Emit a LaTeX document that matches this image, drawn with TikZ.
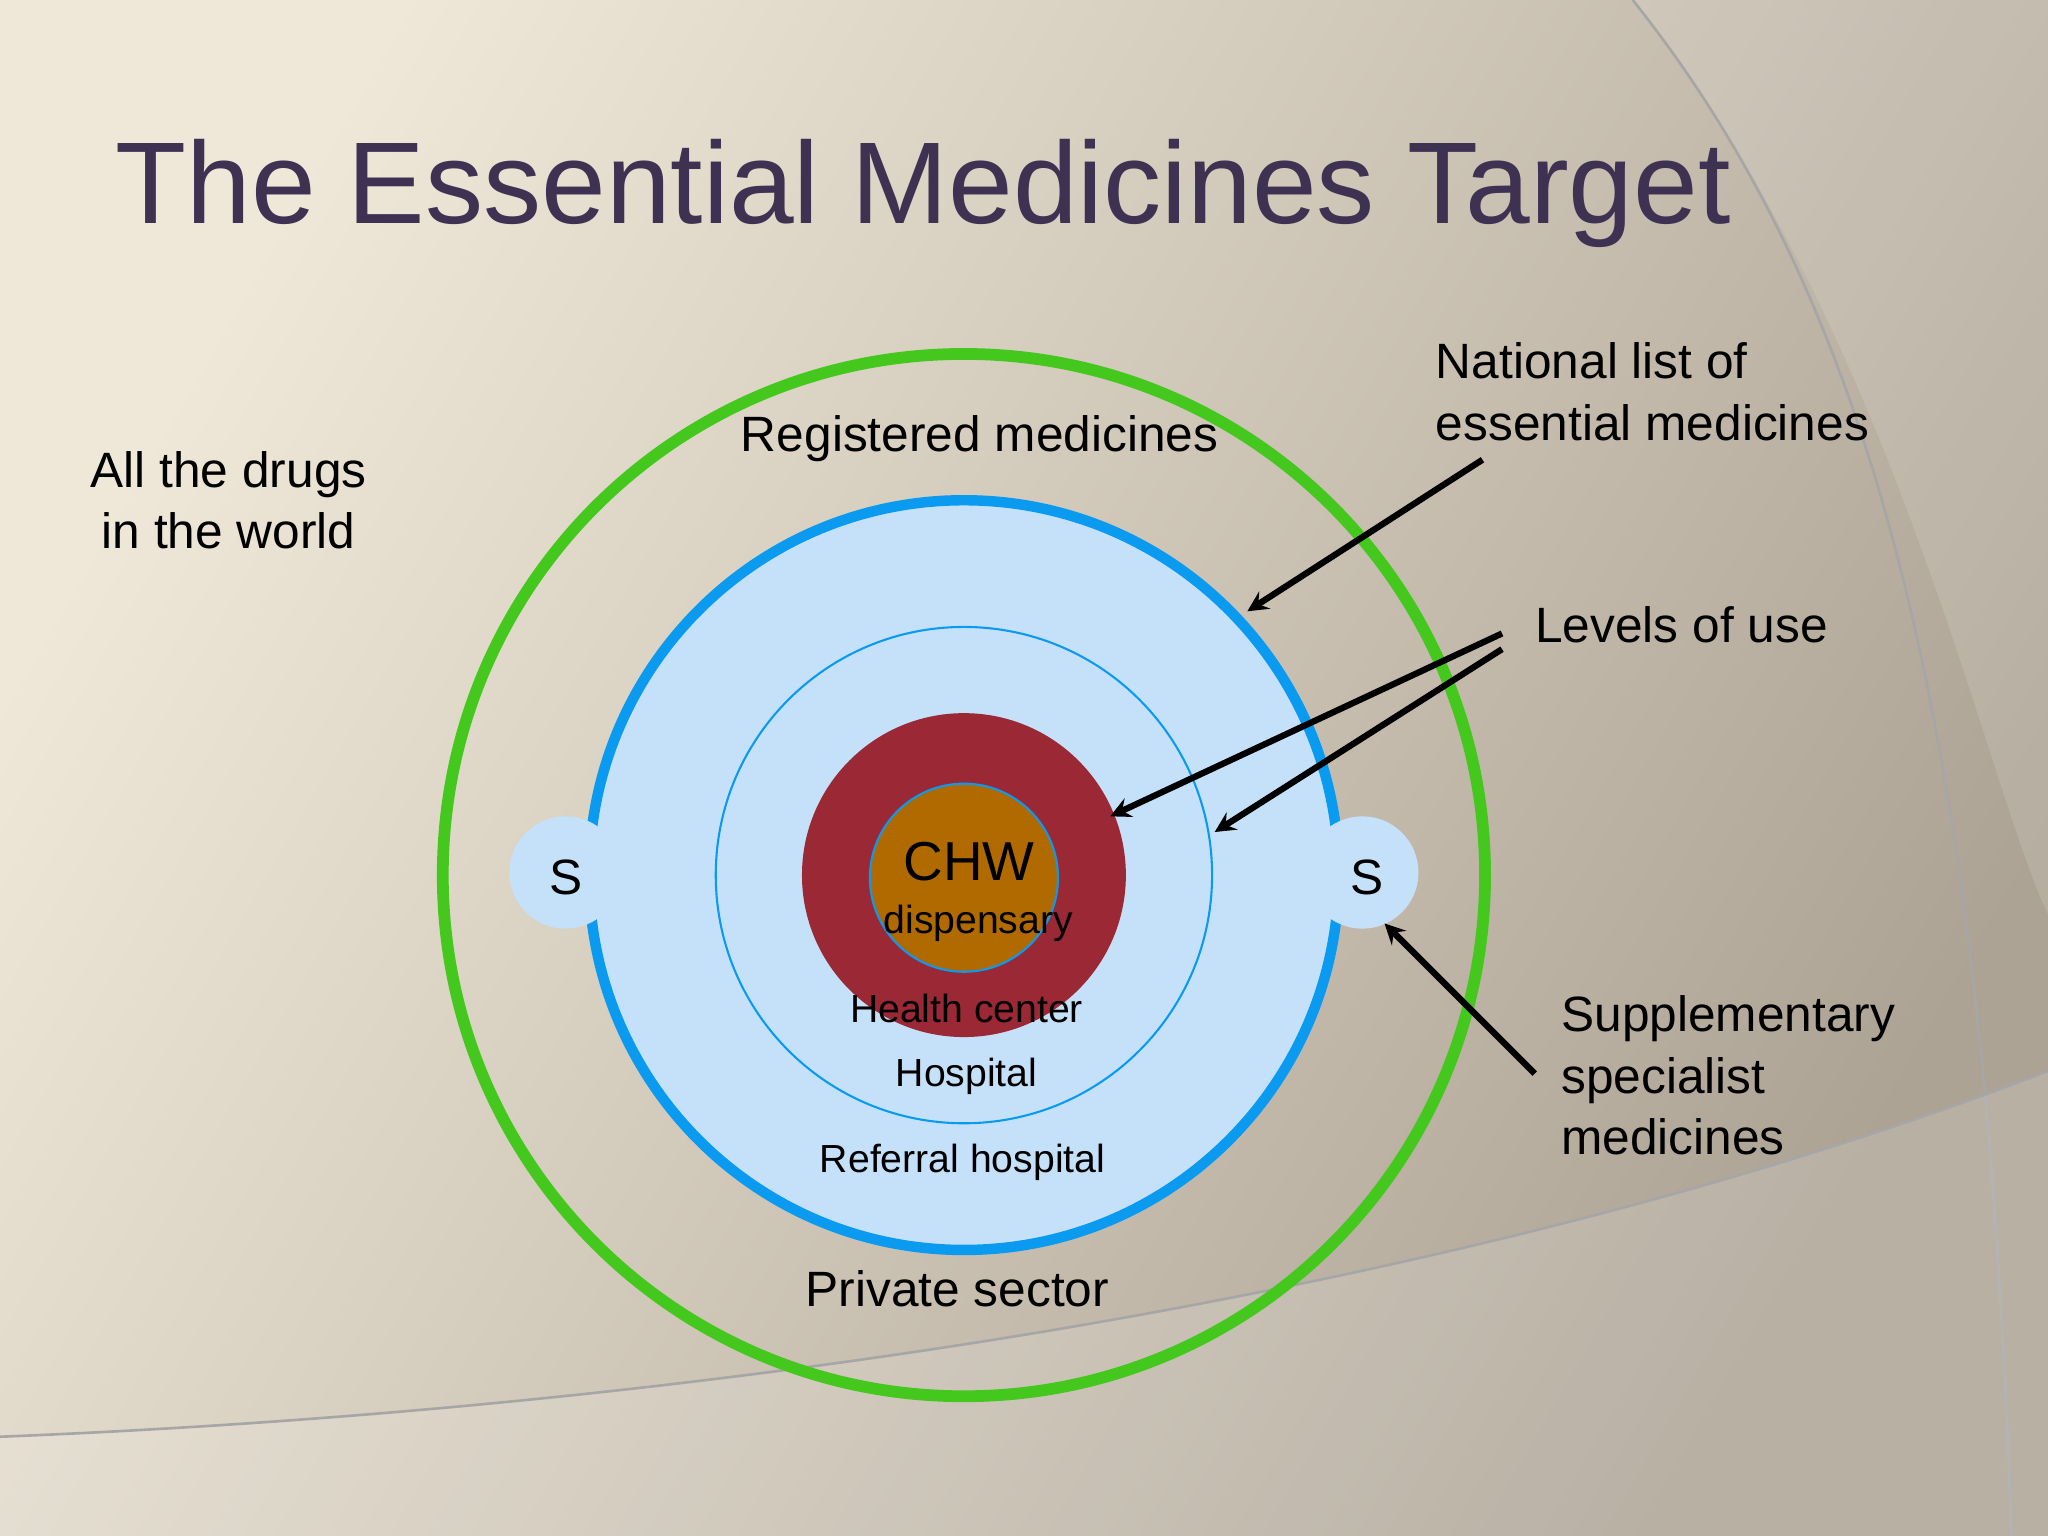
\documentclass[tikz,border=0pt]{standalone}
\usepackage{fontspec}
\setmainfont{Liberation Sans}
\begin{document}
\begin{tikzpicture}[x=0.5pt,y=-0.5pt,
  lbl/.style={font=\fontsize{19}{23.5}\selectfont,align=left,inner sep=0},
  sm/.style={font=\fontsize{15}{18}\selectfont,inner sep=0},
  arr/.style={line width=2.4pt,-stealth}]
\definecolor{bgA}{HTML}{EFE8D8}\definecolor{bgB}{HTML}{ADA395}
\definecolor{lb}{HTML}{C5E1FA}\definecolor{bl}{HTML}{0A9BF0}
\definecolor{gr}{HTML}{44C81E}\definecolor{rd}{HTML}{9B2835}\definecolor{og}{HTML}{B06A00}
\definecolor{tt}{HTML}{3F3151}
\useasboundingbox (0,0) rectangle (1568,1176);
\shade[left color=bgA,right color=bgB,shading angle=60] (0,0) rectangle (1568,1176);
\fill[white,opacity=0.12] (1250,0) .. controls (1450,250) and (1520,600) .. (1568,700) -- (1568,0) -- cycle;
\draw[gray!70,line width=1pt] (1250,0) .. controls (1450,250) and (1520,600) .. (1540,1176);
\fill[white,opacity=0.15] (0,1100) .. controls (500,1080) and (1100,1000) .. (1568,820) -- (1568,1176) -- (0,1176) -- cycle;
\draw[gray!70,line width=1pt] (0,1100) .. controls (500,1080) and (1100,1000) .. (1568,820);
\node[font=\fontsize{44.5}{52}\selectfont,text=tt,inner sep=0,anchor=west] (title) at (88,148) {The Essential Medicines Target};
\coordinate (c) at (738,670);
\draw[gr,line width=4.5pt] (c) circle[radius=399];
\draw[bl,line width=4pt,fill=lb] (c) circle[radius=287];
\fill[lb] (433,668) circle[radius=43];
\fill[lb] (1043,668) circle[radius=43];
\draw[bl,line width=0.8pt] (c) circle[radius=190];
\fill[rd] (c) circle[radius=124];
\draw[bl,line width=0.8pt,fill=og] (738,672) circle[radius=72];
\node[lbl] (s1) at (433,672) {S};
\node[lbl] (s2) at (1047,672) {S};
\node[font=\fontsize{21}{24}\selectfont,inner sep=0] (chw) at (742,660) {CHW};
\node[sm] (disp) at (749,707) {dispensary};
\node[sm] (hc) at (740,772) {Health center};
\node[sm] (hosp) at (740,824) {Hospital};
\node[sm] (ref) at (737,890) {Referral hospital};
\node[lbl] (priv) at (733,987) {Private sector};
\node[lbl] (reg) at (750,336) {Registered medicines};
\node[lbl,align=center] (all) at (175,383) {All the drugs\\in the world};
\node[lbl,anchor=north west] (nat) at (1099,262) {National list of\\essential medicines};
\node[lbl,anchor=west] (lev) at (1175,478) {Levels of use};
\node[lbl,anchor=north west] (sup) at (1195,762) {Supplementary\\specialist\\medicines};
\coordinate (a1) at (955,468); \coordinate (a2) at (850,625);
\coordinate (a3) at (930,637); \coordinate (a4) at (1060,707);
\draw[arr] (1135,352) -- (a1);
\draw[arr] (1150,485) -- (a2);
\draw[arr] (1150,497) -- (a3);
\draw[arr] (1175,822) -- (a4);
\end{tikzpicture}
\end{document}
